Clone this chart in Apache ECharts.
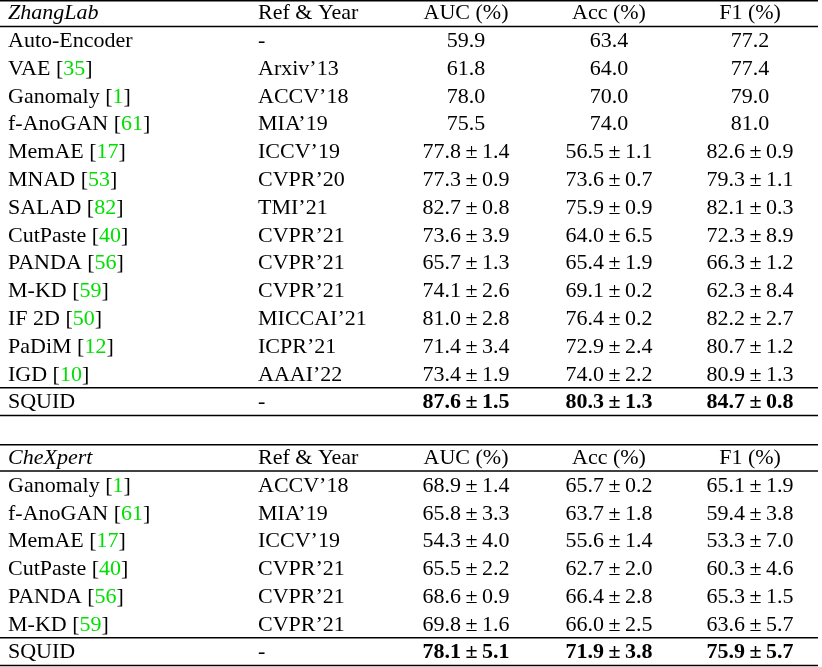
<!DOCTYPE html>
<html><head><meta charset="utf-8">
<script src="https://cdn.jsdelivr.net/npm/echarts@6/dist/echarts.min.js"></script>
<style>html,body{margin:0;padding:0;background:#fff}#c{width:822px;height:667px}</style>
</head><body><div id="c"></div>
<script>
const headers = ["Ref & Year", "AUC (%)", "Acc (%)", "F1 (%)"];
const zhangMethods = [["Auto-Encoder",""],["VAE","35"],["Ganomaly","1"],["f-AnoGAN","61"],["MemAE","17"],["MNAD","53"],["SALAD","82"],["CutPaste","40"],["PANDA","56"],["M-KD","59"],["IF 2D","50"],["PaDiM","12"],["IGD","10"],["SQUID",""]];
const zhangRef = ["-","Arxiv’13","ACCV’18","MIA’19","ICCV’19","CVPR’20","TMI’21","CVPR’21","CVPR’21","CVPR’21","MICCAI’21","ICPR’21","AAAI’22","-"];
const zhangAUC = ["59.9","61.8","78.0","75.5","77.8±1.4","77.3±0.9","82.7±0.8","73.6±3.9","65.7±1.3","74.1±2.6","81.0±2.8","71.4±3.4","73.4±1.9","87.6±1.5"];
const zhangAcc = ["63.4","64.0","70.0","74.0","56.5±1.1","73.6±0.7","75.9±0.9","64.0±6.5","65.4±1.9","69.1±0.2","76.4±0.2","72.9±2.4","74.0±2.2","80.3±1.3"];
const zhangF1 = ["77.2","77.4","79.0","81.0","82.6±0.9","79.3±1.1","82.1±0.3","72.3±8.9","66.3±1.2","62.3±8.4","82.2±2.7","80.7±1.2","80.9±1.3","84.7±0.8"];
const cheMethods = [["Ganomaly","1"],["f-AnoGAN","61"],["MemAE","17"],["CutPaste","40"],["PANDA","56"],["M-KD","59"],["SQUID",""]];
const cheRef = ["ACCV’18","MIA’19","ICCV’19","CVPR’21","CVPR’21","CVPR’21","-"];
const cheAUC = ["68.9±1.4","65.8±3.3","54.3±4.0","65.5±2.2","68.6±0.9","69.8±1.6","78.1±5.1"];
const cheAcc = ["65.7±0.2","63.7±1.8","55.6±1.4","62.7±2.0","66.4±2.8","66.0±2.5","71.9±3.8"];
const cheF1 = ["65.1±1.9","59.4±3.8","53.3±7.0","60.3±4.6","65.3±1.5","63.6±5.7","75.9±5.7"];

const colX = [8, 258, 466, 609, 750];
const colAlign = ["left","left","center","center","center"];
const pm = s => s.replace("±", "\u2009±\u2009");
const cells = [];
function addTable(title, start, methods, ref, auc, acc, f1) {
  cells.push([0, start, "{i|"+title+"}"]);
  headers.forEach((h,i)=>cells.push([i+1, start, h]));
  methods.forEach((m,k)=>{
    const r = start+1+k;
    const last = k===methods.length-1;
    cells.push([0, r, m[1] ? m[0]+" [{g|"+m[1]+"}]" : m[0]]);
    cells.push([1, r, ref[k]]);
    [auc,acc,f1].forEach((a,j)=>cells.push([j+2, r, last ? "{b|"+pm(a[k])+"}" : pm(a[k])]));
  });
}
addTable("ZhangLab", 0, zhangMethods, zhangRef, zhangAUC, zhangAcc, zhangF1);
addTable("CheXpert", 16, cheMethods, cheRef, cheAUC, cheAcc, cheF1);
const rules = [-0.42, 0.5, 13.5, 14.5, 15.55, 16.5, 22.5, 23.5];

const font = "Liberation Serif";
const fs = 22;
const chart = echarts.init(document.getElementById('c'));
chart.setOption({
  animation:false,
  grid:{left:0,right:0,top:0,bottom:0},
  xAxis:{type:'value',min:0,max:822,show:false},
  yAxis:{type:'value',min:-0.45,max:23.55,inverse:true,show:false},
  series:[
    {type:'custom', data: rules.map(r=>[r]), renderItem:(p,api)=>{
      const a=api.coord([0,api.value(0)]), b=api.coord([818,api.value(0)]);
      return {type:'line',shape:{x1:a[0],y1:a[1],x2:b[0],y2:b[1]},style:{stroke:'#000',lineWidth:1.5}};
    }},
    {type:'custom', data: cells, renderItem:(p,api)=>{
      const c = cells[p.dataIndex];
      const pt = api.coord([colX[c[0]], c[1]]);
      return {type:'text',x:pt[0],y:pt[1]+1,style:{text:c[2],fontFamily:font,fontSize:fs,fill:'#000',
        align:colAlign[c[0]],verticalAlign:'middle',
        rich:{g:{fill:'#00e000',fontFamily:font,fontSize:fs},b:{fontWeight:'bold',fontFamily:font,fontSize:fs},i:{fontStyle:'italic',fontFamily:font,fontSize:fs}}}};
    }}
  ]
});
</script></body></html>
